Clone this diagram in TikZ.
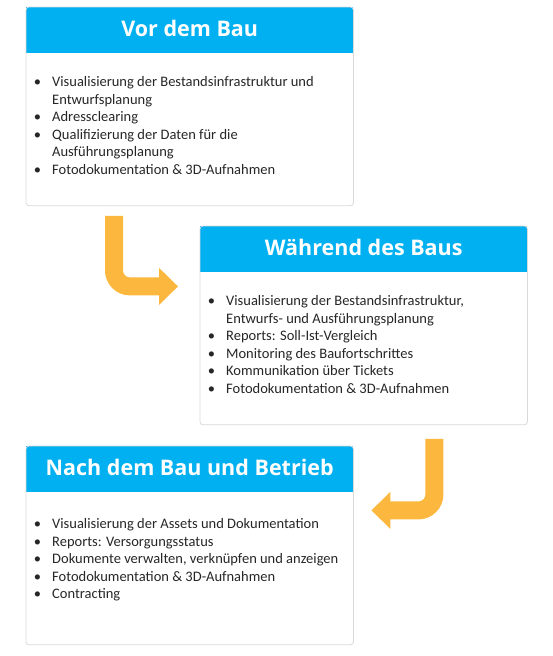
\documentclass[tikz,border=0pt]{standalone}
\usepackage{fontspec}
\setmainfont{Carlito}
\newfontfamily\headfont{Open Sans}
\usepackage{enumitem}
\usepackage{xcolor}
\usetikzlibrary{arrows.meta,positioning}

\definecolor{hdblue}{HTML}{00B0F0}
\definecolor{arrgold}{HTML}{FBB73E}
\definecolor{framegray}{HTML}{D9D9D9}
\definecolor{bodytext}{HTML}{262626}

\setlist[itemize]{label=\textbullet, leftmargin=26pt, labelsep=11pt,
  itemsep=0pt, parsep=0pt, topsep=0pt, partopsep=0pt}
\newcommand{\stagebody}[2][23pt]{%
  \parbox[c][152pt][t]{327pt}{\fontsize{14.5}{17.5}\selectfont\raggedright
    \vspace*{#1}\begin{itemize}#2\end{itemize}}}

\begin{document}
\begin{tikzpicture}[x=1pt,y=1pt,
    headbox/.style={fill=hdblue, text=white, anchor=north west,
      font=\headfont\bfseries\fontsize{21.5}{25}\selectfont,
      minimum width=327pt, minimum height=46pt, inner sep=0pt,
      text height=15pt, text depth=3pt},
    bodybox/.style={below=0pt of #1, inner sep=0pt, text=bodytext},
    frame/.style={draw=framegray, line width=0.8pt, rounded corners=3pt},
    bentarrow/.style={draw=arrgold, line width=18pt, rounded corners=16pt,
      -{Triangle[width=36pt,length=19pt]}}]
  \useasboundingbox (0,0) rectangle (552,-656);

  % Vor dem Bau
  \node[headbox] (head1) at (26,-7) {Vor dem Bau};
  \node[bodybox=head1] (body1) {\stagebody{%
    \item Visualisierung der Bestandsinfrastruktur und\\Entwurfsplanung
    \item Adressclearing
    \item Qualifizierung der Daten für die\\Ausführungsplanung
    \item Fotodokumentation \& 3D-Aufnahmen}};
  \draw[frame] (head1.north west) rectangle (body1.south east);

  % Waehrend des Baus
  \node[headbox] (head2) at (200,-226) {Während des Baus};
  \node[bodybox=head2] (body2) {\stagebody{%
    \item Visualisierung der Bestandsinfrastruktur,\\Entwurfs- und Ausführungsplanung
    \item Reports: Soll-Ist-Vergleich
    \item Monitoring des Baufortschrittes
    \item Kommunikation über Tickets
    \item Fotodokumentation \& 3D-Aufnahmen}};
  \draw[frame] (head2.north west) rectangle (body2.south east);

  % Nach dem Bau und Betrieb
  \node[headbox] (head3) at (26,-446) {Nach dem Bau und Betrieb};
  \node[bodybox=head3] (body3) {\stagebody[26pt]{%
    \item Visualisierung der Assets und Dokumentation
    \item Reports: Versorgungsstatus
    \item Dokumente verwalten, verknüpfen und anzeigen
    \item Fotodokumentation \& 3D-Aufnahmen
    \item Contracting}};
  \draw[frame] (head3.north west) rectangle (body3.south east);

  % bent arrows
  \coordinate (s1) at ([xshift=88pt,yshift=-10pt]body1.south west);
  \coordinate (t1) at ([xshift=-22pt,yshift=-14pt]body2.north west);
  \coordinate (s2) at ([xshift=-93pt,yshift=-14pt]body2.south east);
  \coordinate (t2) at ([xshift=18pt,yshift=-18pt]body3.north east);
  \draw[bentarrow] (s1) |- (t1);
  \draw[bentarrow] (s2) |- (t2);
\end{tikzpicture}
\end{document}
